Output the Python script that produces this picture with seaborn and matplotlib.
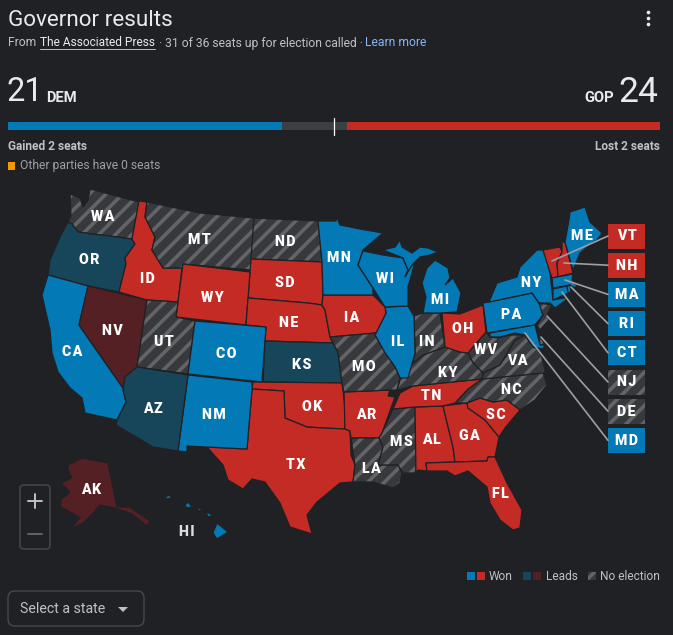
"""
Governor results map, dark theme.

"""
import matplotlib
matplotlib.use('Agg')
import logging
import matplotlib.pyplot as plt
from matplotlib.patches import Polygon, Rectangle, FancyBboxPatch
import seaborn as sns

logging.getLogger('matplotlib.font_manager').setLevel(logging.ERROR)

# seats
SEATS_TOTAL = 50
SEATS_DEM = 21
SEATS_GOP = 24
SEATS_OTHER = 0
SEATS_CALLED = 31
SEATS_UP = 36
GAIN_DEM = 2
LOSS_GOP = 2

# state outcomes
WON_DEM = ['CA', 'CO', 'NM', 'MN', 'WI', 'MI', 'IL', 'PA', 'NY', 'ME', 'MA', 'RI', 'CT', 'MD', 'HI']
WON_GOP = ['ID', 'WY', 'SD', 'NE', 'IA', 'OH', 'OK', 'TX', 'AR', 'TN', 'AL', 'GA', 'SC', 'FL', 'VT', 'NH']
LEADS_DEM = ['OR', 'KS', 'AZ']
LEADS_GOP = ['NV', 'AK']
NO_ELECTION = ['WA', 'MT', 'ND', 'UT', 'MO', 'IN', 'KY', 'WV', 'VA', 'NC', 'LA', 'MS', 'NJ', 'DE']
CALLOUT_STATES = ['VT', 'NH', 'MA', 'RI', 'CT', 'NJ', 'DE', 'MD']

BG = '#202124'
BLUE = '#0379b5'
RED = '#c52b25'
TEAL = '#17455a'
MAROON = '#552024'
STRIPE_DARK = '#38393c'
STRIPE_LIGHT = '#636467'
TEXT = '#e8eaed'
MUTED = '#bdc1c6'

# map geometry, screen pixels
SHAPES = {
    'WA': [(70,194),(80,198),(83,207),(88,200),(90,189),(139,202),(132,239),(110,236),(92,234),(78,232),(72,224),(68,222),(71,216)],
    'OR': [(68,222),(72,224),(78,232),(92,234),(110,236),(132,239),(135,244),(125,258),(126,264),(119,292),(88,286),(48,275),(50,260),(60,237)],
    'CA': [(48,275),(88,286),(79,325),(123,388),(126,402),(117,420),(85,413),(82,398),(70,388),(58,372),(52,353),(50,330),(42,295)],
    'NV': [(88,286),(147,300),(137,367),(125,377),(123,388),(79,325)],
    'ID': [(139,201),(147,202),(145,217),(155,237),(152,250),(163,268),(182,268),(178,302),(147,300),(119,292),(126,264),(125,258),(135,244),(132,239)],
    'MT': [(147,202),(200,213),(254,218),(251,270),(183,264),(182,268),(163,268),(152,250),(155,237),(145,217)],
    'ND': [(254,218),(318,221),(322,262),(251,259)],
    'SD': [(251,259),(322,262),(323,295),(322,305),(308,303),(248,298)],
    'WY': [(183,264),(250,272),(246,325),(176,317)],
    'NE': [(248,298),(308,303),(322,305),(325,310),(330,337),(333,343),(265,341),(266,327),(246,325)],
    'UT': [(147,300),(178,302),(176,317),(195,321),(188,374),(137,367)],
    'CO': [(195,321),(266,327),(265,341),(262,382),(188,374)],
    'KS': [(265,341),(333,343),(338,352),(342,383),(263,382)],
    'OK': [(253,382),(342,383),(345,407),(345,429),(323,428),(307,427),(285,418),(284,391),(252,389)],
    'TX': [(252,389),(284,391),(285,418),(307,427),(323,428),(345,429),(350,431),(351,455),(355,465),(353,482),(340,483),(317,502),(307,515),(312,534),(290,527),(280,503),(265,482),(252,479),(243,489),(228,480),(223,465),(207,447),(247,449)],
    'NM': [(188,375),(252,382),(252,389),(247,449),(206,447),(187,446),(187,452),(178,451)],
    'AZ': [(137,367),(188,375),(178,451),(153,447),(116,425),(117,420),(126,402),(123,390),(125,377)],
    'AR': [(344,392),(390,390),(388,396),(395,397),(382,433),(379,438),(351,438),(350,431),(345,429)],
    'LA': [(351,438),(379,438),(383,447),(378,465),(398,465),(402,473),(400,483),(393,488),(373,482),(353,482),(355,465)],
    'MS': [(393,409),(415,407),(416,473),(403,473),(398,465),(378,465),(383,447),(379,438),(382,433)],
    'AL': [(415,407),(443,406),(453,447),(455,462),(426,463),(427,471),(418,470),(416,473)],
    'GA': [(443,406),(467,403),(468,408),(485,420),(499,437),(495,457),(488,457),(487,461),(455,462),(453,447)],
    'FL': [(426,463),(455,462),(487,461),(488,457),(495,457),(507,483),(522,510),(520,528),(513,530),(500,520),(490,503),(487,487),(468,471),(455,476),(447,471),(427,471)],
    'SC': [(467,403),(480,398),(493,402),(507,400),(520,410),(505,428),(499,437),(485,420),(468,408)],
    'NC': [(482,379),(543,373),(547,385),(535,400),(520,410),(507,400),(493,402),(480,398),(467,403),(455,403),(468,389)],
    'TN': [(393,409),(400,393),(413,386),(482,379),(468,389),(455,403),(443,406),(415,407)],
    'VA': [(483,373),(500,365),(515,340),(525,335),(533,347),(540,350),(545,370),(543,373),(482,379)],
    'WV': [(486,332),(490,337),(498,338),(510,335),(525,335),(515,340),(500,365),(483,373),(473,363),(468,353),(473,347)],
    'KY': [(400,380),(413,363),(423,355),(445,347),(460,352),(468,353),(473,363),(483,373),(482,379),(413,386),(397,390)],
    'IN': [(414,316),(423,313),(440,313),(445,347),(423,355),(413,363),(415,353)],
    'IL': [(385,307),(408,306),(414,316),(415,353),(408,378),(400,378),(395,367),(385,353),(375,335),(386,313)],
    'IA': [(323,295),(373,295),(385,307),(386,313),(376,333),(330,337),(325,310),(322,305)],
    'MO': [(330,337),(376,333),(375,335),(385,353),(395,367),(400,378),(397,390),(390,390),(344,392),(342,383),(338,352),(333,343)],
    'MN': [(318,221),(336,221),(337,217),(340,225),(360,229),(383,233),(363,250),(358,265),(373,288),(373,295),(323,295),(322,262)],
    'WI': [(363,251),(383,255),(403,258),(408,270),(415,262),(408,287),(408,306),(385,307),(373,288),(358,265)],
    'MI': [(422,283),(427,268),(435,260),(448,268),(450,278),(445,285),(453,278),(461,293),(457,312),(440,313),(423,313),(426,297)],
    'MI2': [(383,250),(395,247),(400,240),(402,247),(412,253),(420,247),(428,248),(438,252),(430,255),(420,257),(412,265),(405,277),(408,270),(403,258)],
    'OH': [(442,313),(460,314),(483,305),(486,332),(473,347),(468,353),(460,352),(445,347)],
    'PA': [(483,303),(489,302),(532,293),(539,303),(543,315),(535,325),(487,333)],
    'NY': [(489,302),(497,283),(517,277),(520,267),(537,250),(544,250),(550,273),(553,300),(570,297),(555,308),(550,303),(539,303),(532,293)],
    'NJ': [(539,303),(552,305),(547,315),(549,320),(540,330),(537,325),(543,315)],
    'DE': [(537,325),(540,337),(545,344),(540,345)],
    'MD': [(490,333),(535,325),(540,345),(545,345),(543,349),(533,347),(525,335),(515,333),(500,337),(490,337)],
    'VT': [(543,250),(560,247),(562,252),(557,263),(558,277),(552,278),(547,263)],
    'NH': [(562,242),(565,242),(573,273),(558,277),(557,263),(562,252)],
    'ME': [(570,212),(585,207),(590,222),(602,233),(597,240),(592,243),(580,253),(573,270),(565,242),(569,220)],
    'MA': [(552,278),(573,274),(572,280),(578,287),(573,287),(570,285),(553,288)],
    'CT': [(553,289),(567,286),(568,293),(553,300)],
    'RI': [(567,286),(570,285),(571,292),(568,293)],
    'AK': [(68,465),(82,458),(108,463),(117,507),(130,507),(150,521),(147,526),(132,514),(115,508),(100,505),(93,513),(83,523),(57,535),(72,527),(80,518),(72,513),(61,507),(61,500),(70,492),(61,483),(72,478),(68,470)],
    'HI': [(213,533),(217,523),(228,532),(217,539)],
    'HI2': [(206,512),(213,515),(208,517)],
    'HI3': [(197,508),(203,509),(199,511)],
    'HI4': [(185,505),(188,502),(192,507),(187,508)],
    'HI5': [(165,497),(170,495),(171,498),(167,499)],
}

LABEL_SPOTS = {
    'WA': (103,217), 'OR': (89,260), 'CA': (72,352), 'NV': (112,331), 'ID': (147,279),
    'MT': (199,240), 'ND': (285,242), 'WY': (212,298), 'SD': (285,283), 'NE': (289,323),
    'UT': (164,342), 'CO': (226,354), 'KS': (302,365), 'AZ': (153,409), 'NM': (214,415),
    'OK': (312,407), 'TX': (296,465), 'AR': (366,415), 'LA': (371,469), 'MS': (401,442),
    'AL': (431,440), 'GA': (469,436), 'SC': (496,415), 'FL': (500,494), 'TN': (431,396),
    'NC': (511,390), 'VA': (517,361), 'WV': (486,350), 'KY': (448,373), 'OH': (463,329),
    'IN': (427,342), 'IL': (398,342), 'MO': (364,367), 'IA': (352,318), 'MN': (339,258),
    'WI': (385,279), 'MI': (440,300), 'PA': (511,315), 'NY': (531,283), 'ME': (582,236),
    'AK': (91,490), 'HI': (187,532),
}

LEADER_STARTS = {
    'VT': (552,261), 'NH': (564,263), 'MA': (565,280), 'RI': (571,287),
    'CT': (562,292), 'NJ': (547,316), 'DE': (541,337), 'MD': (525,333),
}

sns.set_theme(style='dark', rc={'hatch.linewidth': 2.6})
plt.rcParams['font.family'] = ['Roboto', 'DejaVu Sans']

fig = plt.figure(figsize=(6.73, 6.35), dpi=100, facecolor=BG)
ax = fig.add_axes([0, 0, 1, 1], facecolor='none', zorder=2)
ax.set_xlim(0, 673)
ax.set_ylim(635, 0)
ax.axis('off')


def state_color(state):
    if state in WON_DEM:
        return BLUE
    if state in WON_GOP:
        return RED
    if state in LEADS_DEM:
        return TEAL
    if state in LEADS_GOP:
        return MAROON
    return None


def draw_fill(patch_cls, color, *args, **kwargs):
    # striped when there is no colour, solid otherwise
    if color is None:
        ax.add_patch(patch_cls(*args, facecolor=STRIPE_DARK, edgecolor=STRIPE_LIGHT,
                               hatch='//', linewidth=0, **kwargs))
    else:
        ax.add_patch(patch_cls(*args, facecolor=color, edgecolor='none', **kwargs))


def spaced(state):
    # map labels have a little tracking
    return '\u200a'.join(state)


# seat bar, later bars paint over the earlier ones
ax_bar = fig.add_axes([8/673, 1-130/635, 652/673, 8/635], zorder=1)
sns.barplot(x=[SEATS_TOTAL], y=[''], color=RED, saturation=1, width=1, linewidth=0, ax=ax_bar)
sns.barplot(x=[SEATS_TOTAL-SEATS_GOP], y=[''], color='#3c4043', saturation=1, width=1, linewidth=0, ax=ax_bar)
sns.barplot(x=[SEATS_DEM], y=[''], color=BLUE, saturation=1, width=1, linewidth=0, ax=ax_bar)
ax_bar.set_xlim(0, SEATS_TOTAL)
ax_bar.set_ylim(0.5, -0.5)
ax_bar.axis('off')
ax.plot([334, 334], [118, 135], color='white', lw=0.9)

# header
ax.text(8, 20, 'Governor results', color=TEXT, fontsize=16.2, va='center')
ax.text(8, 43, 'From', color=MUTED, fontsize=8.7, va='center')
ax.text(39.5, 43, 'The Associated Press', color=TEXT, fontsize=8.6, va='center')
ax.plot([39.5, 155], [48.5, 48.5], color=MUTED, lw=0.7)
ax.text(159, 43, '· {} of {} seats up for election called ·'.format(SEATS_CALLED, SEATS_UP),
        color=MUTED, fontsize=8.7, va='center')
ax.text(365, 43, 'Learn more', color='#8ab4f8', fontsize=8.7, va='center')
ax.scatter([648, 648, 648], [12, 18, 24], s=7, color=TEXT, linewidths=0)

ax.text(7, 92, str(SEATS_DEM), color=TEXT, fontsize=23.5, va='center')
ax.text(46, 98.5, 'DEM', color=TEXT, fontsize=10.6, fontweight='bold', va='center')
ax.text(658, 92, str(SEATS_GOP), color=TEXT, fontsize=25.5, va='center', ha='right')
ax.text(614, 98.5, 'GOP', color=TEXT, fontsize=10.6, fontweight='bold', va='center', ha='right')

ax.text(8, 146, 'Gained {} seats'.format(GAIN_DEM), color=MUTED, fontsize=8.6,
        fontweight='bold', va='center')
ax.text(660, 146, 'Lost {} seats'.format(LOSS_GOP), color=MUTED, fontsize=8.6,
        fontweight='bold', va='center', ha='right')
ax.add_patch(Rectangle((8, 162), 7, 8, facecolor='#f29900', edgecolor='none'))
ax.text(20, 166, 'Other parties have {} seats'.format(SEATS_OTHER), color='#9aa0a6',
        fontsize=8.7, va='center')

# states
for key, points in SHAPES.items():
    state = key[:2]
    draw_fill(Polygon, state_color(state), points, closed=True)
    ax.add_patch(Polygon(points, closed=True, facecolor='none', edgecolor=BG, linewidth=0.9))

for state, (x, y) in LABEL_SPOTS.items():
    color = '#dadce0' if state == 'HI' else 'white'
    ax.text(x, y, spaced(state), color=color, fontsize=10.2, fontweight='black', ha='center', va='center')

# small state callouts
for i, state in enumerate(CALLOUT_STATES):
    top = 223.5 + i*29.2
    start = LEADER_STARTS[state]
    ax.plot([start[0], 608], [start[1], top+12.5], color='#9aa0a6', lw=1.2)
    draw_fill(Rectangle, state_color(state), (608, top), 37, 25)
    ax.text(626.5, top+13, spaced(state), color='white', fontsize=10.2, fontweight='black',
            ha='center', va='center')

# zoom control
ax.add_patch(FancyBboxPatch((20, 485), 30, 64, boxstyle='round,pad=0,rounding_size=4',
                            facecolor=BG, edgecolor='#3c4043', linewidth=1.4))
ax.plot([28, 42], [501, 501], color=MUTED, lw=1.4)
ax.plot([35, 35], [494, 508], color=MUTED, lw=1.4)
ax.plot([28, 42], [534, 534], color='#5f6368', lw=1.4)

# legend
ax.add_patch(Rectangle((467, 572), 8, 8, facecolor=BLUE, edgecolor='none'))
ax.add_patch(Rectangle((477, 572), 8, 8, facecolor=RED, edgecolor='none'))
ax.text(489, 576, 'Won', color=MUTED, fontsize=8.6, va='center')
ax.add_patch(Rectangle((523, 572), 8, 8, facecolor=TEAL, edgecolor='none'))
ax.add_patch(Rectangle((533, 572), 8, 8, facecolor=MAROON, edgecolor='none'))
ax.text(546, 576, 'Leads', color=MUTED, fontsize=8.6, va='center')
ax.add_patch(Rectangle((588, 572), 8, 8, facecolor=STRIPE_DARK, edgecolor=STRIPE_LIGHT,
                       hatch='//', linewidth=0))
ax.text(600, 576, 'No election', color=MUTED, fontsize=8.6, va='center')

# state selector
ax.add_patch(FancyBboxPatch((8, 591), 136, 35, boxstyle='round,pad=0,rounding_size=7',
                            facecolor=BG, edgecolor='#4a4c50', linewidth=0.9))
ax.text(20, 609, 'Select a state', color=MUTED, fontsize=10.2, va='center')
ax.add_patch(Polygon([(118, 607), (128, 607), (123, 612)], closed=True,
                     facecolor=MUTED, edgecolor='none'))

fig.savefig('out.png', dpi=100, facecolor=BG)
plt.close()
